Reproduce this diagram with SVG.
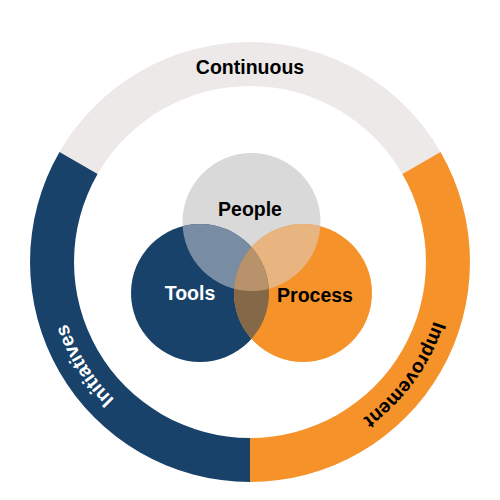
<svg xmlns="http://www.w3.org/2000/svg" xmlns:xlink="http://www.w3.org/1999/xlink" width="500" height="500" viewBox="0 0 500 500">
  <style>
    text { font-family: "Liberation Sans", Arial, sans-serif; font-weight: bold; font-size: 19.5px; }
    .dark { fill: #000000; }
    .light { fill: #FFFFFF; }
    .mid { text-anchor: middle; }
  </style>
  <defs>
    <clipPath id="clipTools"><circle cx="200" cy="293" r="69"/></clipPath>
    <clipPath id="clipProcess"><circle cx="303" cy="293" r="69"/></clipPath>
    <path id="arcInit" d="M223.1,453.1 A193,193 0 0 1 66.4,202.4"/>
    <path id="arcImpr" d="M437.3,215.3 A193,193 0 0 1 263.5,454.5"/>
  </defs>
  <rect width="500" height="500" fill="#FFFFFF"/>

  <g id="ring-continuous">
    <path d="M59.5,152 A220,220 0 0 1 440.5,152 L402.4,174 A176,176 0 0 0 97.6,174 Z" fill="#ECE9E8"/>
    <text class="dark mid" x="250" y="74">Continuous</text>
  </g>
  <g id="ring-initiatives">
    <path d="M250,482 A220,220 0 0 1 59.5,152 L97.6,174 A176,176 0 0 0 250,438 Z" fill="#18426A"/>
    <text class="light mid"><textPath xlink:href="#arcInit" href="#arcInit" startOffset="50%">Initiatives</textPath></text>
  </g>
  <g id="ring-improvement">
    <path d="M440.5,152 A220,220 0 0 1 250,482 L250,438 A176,176 0 0 0 402.4,174 Z" fill="#F5922A"/>
    <text class="dark mid"><textPath xlink:href="#arcImpr" href="#arcImpr" startOffset="50%">Improvement</textPath></text>
  </g>

  <g id="venn-shapes">
    <circle cx="251.5" cy="222" r="69" fill="#D9D9D9"/>
    <circle cx="200" cy="293" r="69" fill="#18426A"/>
    <circle cx="303" cy="293" r="69" fill="#F5922A"/>
    <circle cx="251.5" cy="222" r="69" fill="#788DA3" clip-path="url(#clipTools)"/>
    <circle cx="251.5" cy="222" r="69" fill="#E8B47F" clip-path="url(#clipProcess)"/>
    <circle cx="200" cy="293" r="69" fill="#846848" clip-path="url(#clipProcess)"/>
    <g clip-path="url(#clipProcess)">
      <circle cx="251.5" cy="222" r="69" fill="#B8926A" clip-path="url(#clipTools)"/>
    </g>
  </g>

  <g id="node-people">
    <text class="dark mid" x="250" y="216">People</text>
  </g>
  <g id="node-tools">
    <text class="light mid" x="190" y="300">Tools</text>
  </g>
  <g id="node-process">
    <text class="dark mid" x="315" y="302">Process</text>
  </g>
</svg>
